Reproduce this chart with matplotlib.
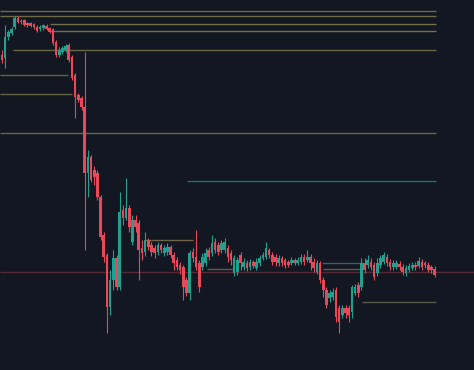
import numpy as np
import matplotlib
matplotlib.use("Agg")
import matplotlib.pyplot as plt

# ---- candle data ----
opens = [315, 312, 333, 337, 343, 352, 349, 350, 347, 347, 346, 343, 341, 342, 344, 342,
         341, 328, 315, 318, 320, 325, 313, 295, 275, 272, 263, 197, 213, 200, 197, 173,
         135, 115, 63, 90, 112, 83, 160, 152, 162, 128, 150, 147, 122, 118, 130, 125,
         122, 118, 125, 117, 118, 123, 115, 110, 105, 103, 90, 77, 118, 113, 107, 103,
         107, 120, 117, 128, 125, 120, 120, 122, 117, 97, 98, 115, 103, 107, 103, 108,
         102, 107, 112, 113, 120, 115, 113, 107, 112, 110, 108, 107, 110, 107, 108, 113,
         110, 113, 108, 98, 107, 90, 80, 72, 73, 80, 62, 55, 62, 62, 58, 77,
         85, 83, 107, 105, 108, 105, 97, 105, 108, 113, 108, 103, 103, 106, 103, 97,
         100, 102, 105, 104, 108, 107, 105, 103, 101]
highs = [320, 345, 340, 343, 354, 354, 351, 351, 348, 348, 347, 345, 345, 346, 346, 343,
         342, 330, 323, 324, 326, 327, 315, 297, 277, 274, 318, 220, 215, 204, 200, 175,
         138, 117, 100, 120, 115, 178, 165, 192, 165, 155, 155, 150, 130, 138, 132, 128,
         125, 128, 127, 125, 127, 125, 118, 113, 108, 105, 93, 120, 122, 140, 110, 117,
         122, 123, 135, 132, 128, 130, 132, 125, 120, 115, 113, 118, 112, 110, 111, 110,
         112, 115, 118, 128, 122, 118, 116, 115, 114, 112, 110, 113, 112, 113, 116, 116,
         120, 116, 112, 110, 109, 93, 83, 80, 82, 83, 65, 65, 65, 65, 85, 86,
         88, 112, 112, 115, 112, 108, 112, 115, 118, 116, 111, 110, 110, 109, 106, 105,
         107, 108, 108, 113, 111, 109, 108, 105, 104]
lows = [307, 302, 330, 335, 341, 347, 346, 344, 343, 343, 341, 338, 339, 340, 340, 337,
        325, 313, 313, 316, 318, 308, 290, 252, 268, 260, 120, 173, 188, 185, 170, 130,
        108, 37, 55, 80, 80, 80, 145, 150, 138, 125, 138, 90, 110, 114, 120, 114,
        112, 115, 117, 114, 115, 112, 100, 100, 96, 70, 74, 70, 108, 100, 78, 100,
        104, 110, 114, 117, 115, 117, 117, 108, 105, 94, 95, 100, 100, 99, 100, 102,
        100, 104, 110, 111, 112, 105, 104, 104, 104, 102, 103, 105, 105, 105, 106, 105,
        108, 100, 98, 96, 87, 73, 62, 68, 70, 48, 37, 52, 52, 48, 52, 75,
        73, 80, 97, 102, 100, 90, 94, 102, 106, 104, 100, 100, 101, 100, 95, 94,
        98, 100, 100, 102, 100, 102, 98, 97, 93]
closes = [310, 333, 338, 341, 352, 348, 348, 345, 345, 344, 343, 339, 343, 345, 341, 338,
          327, 315, 320, 322, 324, 310, 292, 273, 270, 263, 197, 213, 190, 193, 173, 133,
          113, 63, 90, 112, 83, 158, 152, 162, 143, 150, 143, 120, 117, 130, 123, 118,
          117, 125, 120, 122, 123, 115, 107, 103, 100, 83, 77, 117, 112, 103, 83, 113,
          117, 113, 127, 120, 118, 127, 128, 113, 110, 112, 110, 107, 108, 102, 108, 104,
          108, 112, 115, 122, 115, 108, 108, 112, 107, 105, 105, 110, 107, 110, 113, 108,
          113, 107, 102, 107, 90, 80, 65, 77, 78, 53, 48, 62, 57, 55, 83, 83,
          77, 107, 100, 110, 103, 93, 107, 112, 115, 107, 103, 107, 107, 103, 98, 102,
          104, 105, 103, 109, 103, 105, 100, 100, 95]

# ---- drawn levels: price, start/end in bar index ----
level_prices = [359, 354, 346, 339, 320, 295, 276, 237, 189, 130, 101, 107, 101, 68, 98]
level_start = [-0.6, -0.6, 15, 15, 3.5, -0.6, -0.6, -0.6, 58.2, 45, 64.5, 100.6, 100.9, 113.2, -0.6]
level_end = [136.5, 136.5, 136.5, 136.5, 136.5, 20.8, 22, 136.5, 136.5, 60, 72.6, 113.2, 112.6, 136.5, 148.4]
level_colors = ['#6e6b48', '#6e6b48', '#75714a', '#75714a', '#6a6644', '#666244', '#666244',
                '#6a6644', '#1f6f70', '#6e6248', '#5e5b48', '#3f6062', '#5e5b48', '#5a5950', '#542934']

bg = '#131722'
up_col = '#22a08f'
down_col = '#e8495a'

fig = plt.figure(figsize=(4.74, 3.70), dpi=100, facecolor=bg)
ax = fig.add_axes([0, 0, 1, 1])
ax.set_facecolor(bg)

o = np.array(opens, dtype=float)
h = np.array(highs, dtype=float)
l = np.array(lows, dtype=float)
c = np.array(closes, dtype=float)
x = np.arange(len(o))
cols = np.where(c >= o, up_col, down_col)

# levels behind the candles
for p, x0, x1, col in zip(level_prices, level_start, level_end, level_colors):
    ax.hlines(p, x0, x1, colors=col, linewidth=1.0, zorder=1)

# wicks and bodies
ax.vlines(x, l, h, colors=cols, linewidth=0.8, zorder=2)
body_lo = np.minimum(o, c)
body_h = np.maximum(np.abs(c - o), 1.5)
ax.bar(x, body_h, bottom=body_lo, width=0.82, color=cols, linewidth=0, zorder=3)

ax.set_xlim(-0.63, 148.4)
ax.set_ylim(0, 370)
ax.axis('off')

fig.savefig('out.png', dpi=100, facecolor=bg)
